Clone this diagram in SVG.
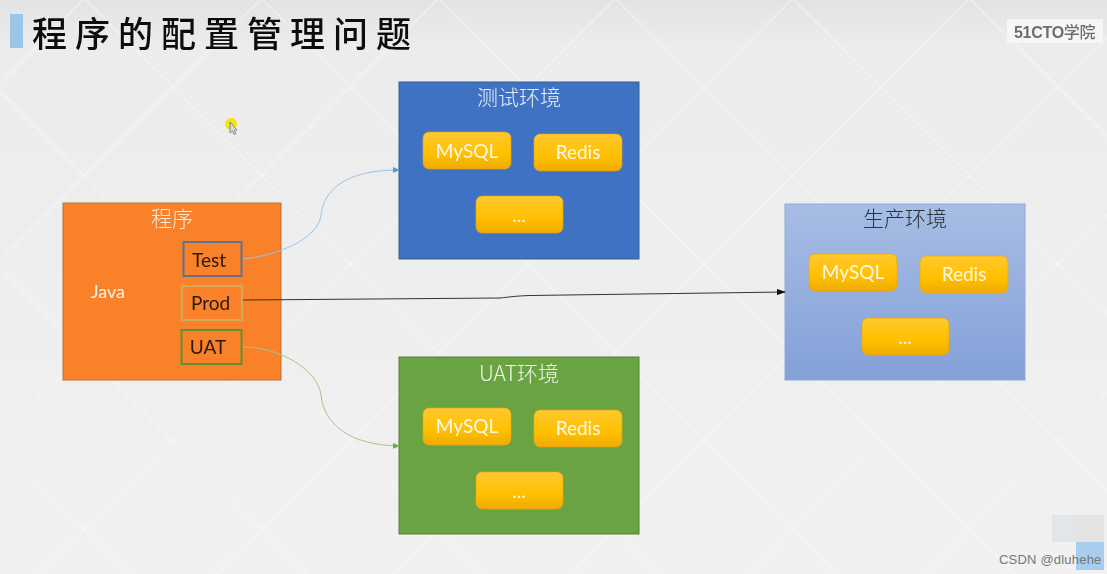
<svg xmlns="http://www.w3.org/2000/svg" width="1107" height="574" viewBox="0 0 1107 574">
<style>
.env{stroke-width:1}
.inner{fill:url(#gold);stroke:#e5a40f;stroke-width:.6}
.lab{font-family:"Lato","Open Sans","Liberation Sans",sans-serif;font-size:19px;text-anchor:middle;fill:#fff8e8}
.head{font-family:"Noto Sans CJK SC","Noto Sans CJK JP",sans-serif;font-weight:300;font-size:21px;text-anchor:middle}
.tag{font-family:"Lato","Open Sans","Liberation Sans",sans-serif;font-size:19px;text-anchor:middle;fill:#2a1a0c}
.sel{fill:none;stroke-width:2}
.con{fill:none;stroke-width:1}
</style>
<defs>
<linearGradient id="bg" x1="0" y1="0" x2="0" y2="1"><stop offset="0" stop-color="#e3e3e3"/><stop offset=".08" stop-color="#ececec"/><stop offset="1" stop-color="#f1f1f1"/></linearGradient>
<linearGradient id="gold" x1="0" y1="0" x2="0" y2="1"><stop offset="0" stop-color="#ffc82e"/><stop offset=".6" stop-color="#ffc000"/><stop offset="1" stop-color="#eeaa08"/></linearGradient>
<linearGradient id="prodbg" x1="0" y1="0" x2="0" y2="1"><stop offset="0" stop-color="#a7bde4"/><stop offset="1" stop-color="#83a0d8"/></linearGradient>
<pattern id="lattice" width="177" height="177" patternUnits="userSpaceOnUse" patternTransform="translate(84.5 -1.5)">
<path d="M0 0L177 177M0 177L177 0" stroke="#fafafa" stroke-width="1.2" stroke-opacity=".7" fill="none"/>
</pattern>
<filter id="soft" x="-5%" y="-5%" width="110%" height="110%"><feGaussianBlur stdDeviation=".45"/></filter>
<marker id="arB" markerWidth="7" markerHeight="6" refX="6" refY="3" orient="auto" markerUnits="userSpaceOnUse"><path d="M0 0L7 3L0 6Z" fill="#5b9bd5"/></marker>
<marker id="arK" markerWidth="9" markerHeight="6" refX="8" refY="3" orient="auto" markerUnits="userSpaceOnUse"><path d="M0 0L9 3L0 6Z" fill="#111"/></marker>
<marker id="arG" markerWidth="7" markerHeight="6" refX="6" refY="3" orient="auto" markerUnits="userSpaceOnUse"><path d="M0 0L7 3L0 6Z" fill="#70ad47"/></marker>
</defs>

<g id="background">
<rect width="1107" height="574" fill="url(#bg)"/>
<rect width="1107" height="574" fill="url(#lattice)"/>
</g>

<g id="title" filter="url(#soft)">
<rect x="10" y="14" width="13" height="34" fill="#9cc6e8"/>
<text x="32" y="47" font-family="'Noto Sans CJK SC','Noto Sans CJK JP',sans-serif" font-weight="500" font-size="35" letter-spacing="8" fill="#111">程序的配置管理问题</text>
</g>

<g id="watermark" filter="url(#soft)">
<rect x="1007" y="19" width="96" height="24" fill="#f6f6f6"/>
<text x="1014" y="38" font-family="'Liberation Sans','Noto Sans CJK SC',sans-serif" font-weight="700" font-size="16" fill="#6e6e6e" letter-spacing="-.3">51CTO<tspan font-family="'Noto Sans CJK SC',sans-serif" font-weight="500">学院</tspan></text>
</g>

<g id="cursor" filter="url(#soft)">
<circle cx="231" cy="124" r="6" fill="#f4e600"/>
<path d="M230 122L230 133L232.500 131L234 134.500L236 133.500L234.500 130.500L237 130Z" fill="#d8d8d8" stroke="#666" stroke-width=".7"/>
</g>

<g id="node-test-env" filter="url(#soft)">
<rect class="env" x="399" y="82" width="240" height="177" fill="#4072c4" stroke="#33608f"/>
<text class="head" x="519" y="105" fill="#e8eef8">测试环境</text>
<rect class="inner" x="423" y="132" width="88" height="37" rx="6"/><text class="lab" x="467" y="158">MySQL</text>
<rect class="inner" x="534" y="134" width="88" height="37" rx="6"/><text class="lab" x="578" y="159">Redis</text>
<rect class="inner" x="476" y="196" width="87" height="37" rx="6"/><text class="lab" x="519" y="222" font-size="18">...</text>
</g>

<g id="node-uat-env" filter="url(#soft)">
<rect class="env" x="399" y="357" width="240" height="177" fill="#6ba443" stroke="#55803a"/>
<text class="head" x="519" y="381" fill="#eef5e6">UAT环境</text>
<rect class="inner" x="423" y="408" width="88" height="37" rx="6"/><text class="lab" x="467" y="433">MySQL</text>
<rect class="inner" x="534" y="410" width="88" height="37" rx="6"/><text class="lab" x="578" y="435">Redis</text>
<rect class="inner" x="476" y="472" width="87" height="37" rx="6"/><text class="lab" x="519" y="498" font-size="18">...</text>
</g>

<g id="node-prod-env" filter="url(#soft)">
<rect class="env" x="785" y="204" width="240" height="176" fill="url(#prodbg)" stroke="#8fabd9"/>
<text class="head" x="905" y="226" fill="#2b3038">生产环境</text>
<rect class="inner" x="809" y="254" width="88" height="37" rx="6"/><text class="lab" x="853" y="279">MySQL</text>
<rect class="inner" x="920" y="256" width="88" height="37" rx="6"/><text class="lab" x="964" y="281">Redis</text>
<rect class="inner" x="862" y="318" width="87" height="37" rx="6"/><text class="lab" x="905" y="344" font-size="18">...</text>
</g>

<g id="node-program" filter="url(#soft)">
<rect x="63" y="203" width="218" height="177" fill="#f9812c" stroke="#b9703a"/>
<text class="head" x="172" y="226" fill="#fde8d4">程序</text>
<text x="108" y="298" font-family="Lato,'Liberation Sans',sans-serif" font-size="18" text-anchor="middle" fill="#fff2e4">Java</text>
</g>

<g id="node-test" filter="url(#soft)">
<rect class="sel" x="183.500" y="242" width="58" height="34" stroke="#5d7390"/>
<text class="tag" x="209" y="267">Test</text>
</g>
<g id="node-prod" filter="url(#soft)">
<rect class="sel" x="182" y="286" width="60" height="34" stroke="#d4a85a"/>
<text class="tag" x="210.500" y="310">Prod</text>
</g>
<g id="node-uat" filter="url(#soft)">
<rect class="sel" x="181.500" y="330" width="60" height="34" stroke="#5f9030"/>
<text class="tag" x="208" y="354">UAT</text>
</g>

<g id="connectors">
<path class="con" d="M243 259C275 256 318 240 321 215C324 190 345 170 399 170" stroke="#9dc3e6" stroke-width="1.2" marker-end="url(#arB)"/>
<path class="con" d="M243 300L500 298C510 297 515 296 530 295.500L785 292" stroke="#333" marker-end="url(#arK)"/>
<path class="con" d="M243 347C280 347 318 370 321 395C324 425 350 445 399 446" stroke="#a9c48d" stroke-width="1.2" marker-end="url(#arG)"/>
</g>

<g id="overlay">
<rect x="1052" y="515" width="24" height="27" fill="#e2e5e9"/>
<rect x="1076" y="515" width="28" height="27" fill="#e4e4e4"/>
<rect x="1076" y="542" width="28" height="28" fill="#a9cdee"/>
<text x="999" y="564" font-family="'Liberation Sans',sans-serif" font-size="13" letter-spacing=".2" fill="#777">CSDN @dluhehe</text>
</g>
</svg>
